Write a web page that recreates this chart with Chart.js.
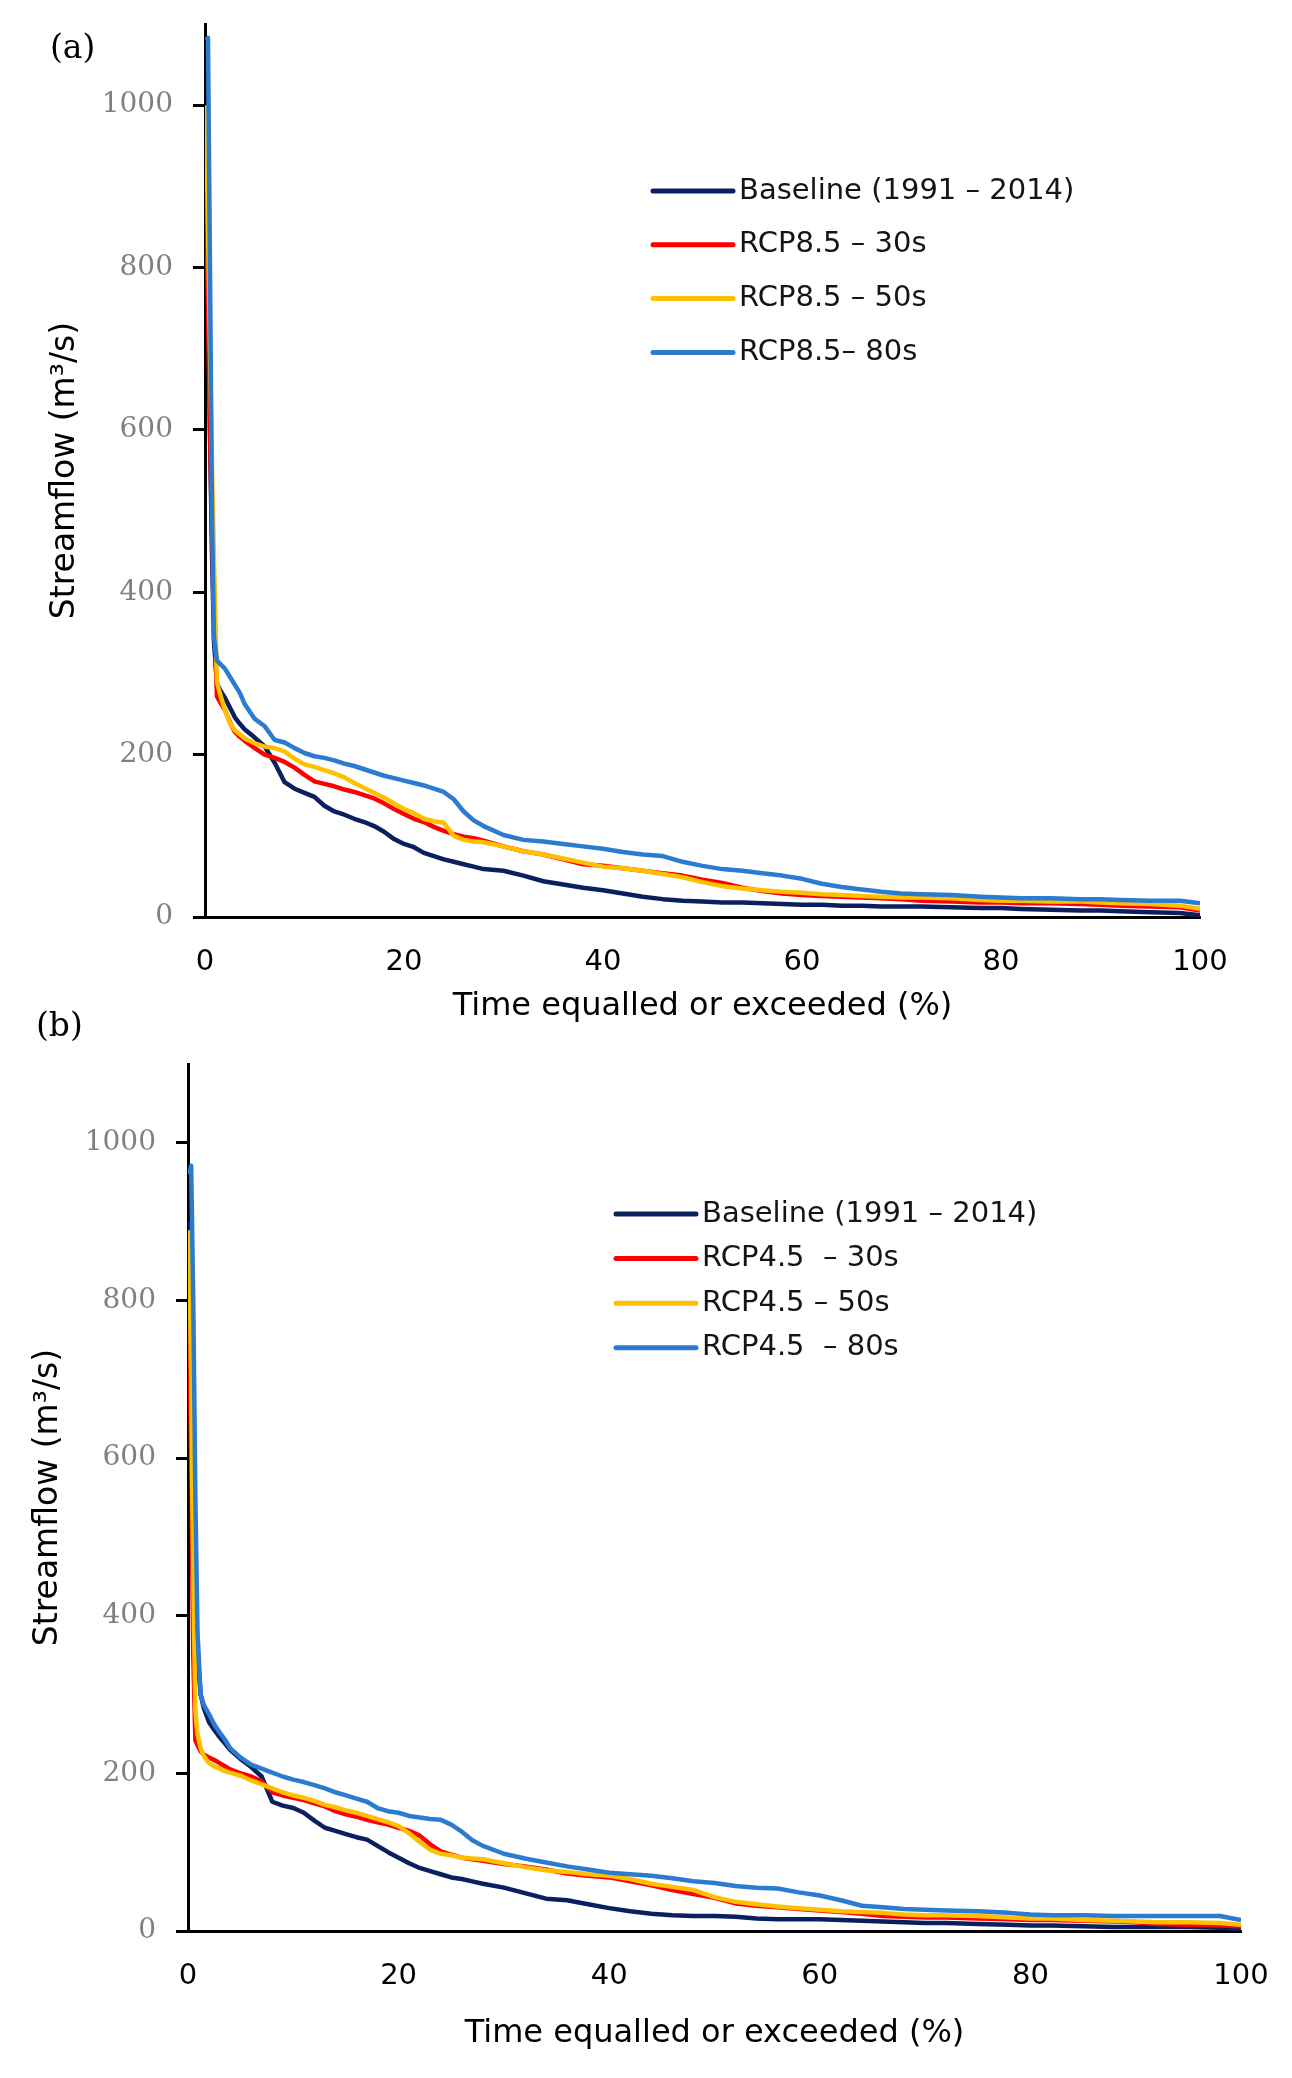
<!DOCTYPE html>
<html>
<head>
<meta charset="utf-8">
<script src="https://cdn.jsdelivr.net/npm/chart.js@4.4.1/dist/chart.umd.min.js"></script>
<style>
  body { margin: 0; background: #fff; width: 1292px; height: 2078px; position: relative; overflow: hidden; }
  .panel { position: absolute; left: 0; width: 1292px; }
  .tag { position: absolute; font-family: 'DejaVu Serif'; font-size: 33px; line-height: 33px; color: #000; }
</style>
</head>
<body>
<div class="panel" style="top:0;height:1040px"><canvas id="chartA"></canvas></div>
<div class="panel" style="top:1040px;height:1038px"><canvas id="chartB"></canvas></div>
<div class="tag" style="left:50px;top:30px">(a)</div>
<div class="tag" style="left:36px;top:1008px">(b)</div>
<script>
// time equalled or exceeded (%), shared by every curve
var pct = [0.1, 0.3, 0.5, 0.7, 0.9, 1.2, 1.5, 2, 2.5, 3, 3.5, 4,
  5, 6, 7, 8, 9, 10, 11, 12, 13, 14, 15, 16, 17, 18, 19, 20, 21, 22, 23, 24, 25, 26, 27, 28,
  30, 32, 34, 36, 38, 40, 42, 44, 46, 48, 50, 52, 54, 56, 58, 60, 62, 64, 66, 68, 70, 72,
  75, 78, 80, 82, 85, 88, 90, 92, 95, 98, 100]

// panel (a) streamflow, m3/s
var baseA = [950, 800, 600, 450, 340, 288, 280, 270, 258, 246, 238, 231,
  221, 210, 190, 166, 158, 153, 148, 137, 130, 126, 121, 117, 112, 105, 96, 90, 86, 79, 75, 71, 68, 65, 62, 59,
  57, 51, 44, 40, 36, 33, 29, 25, 22, 20, 19, 18, 18, 17, 16, 15, 15, 14, 14, 13, 13, 13,
  12, 11, 11, 10, 9, 8, 8, 7, 6, 5, 2]
var rcp85_30 = [900, 750, 600, 470, 380, 272, 265, 255, 240, 228, 222, 217,
  208, 200, 196, 191, 184, 175, 167, 164, 161, 157, 154, 150, 146, 140, 133, 127, 121, 117, 111, 106, 102, 99, 97, 94,
  87, 81, 77, 71, 65, 63, 60, 57, 54, 51, 46, 42, 36, 32, 29, 27, 26, 25, 24, 23, 22, 20,
  19, 18, 18, 17, 17, 16, 15, 14, 13, 12, 8]
var rcp85_50 = [1000, 850, 700, 560, 440, 290, 275, 255, 239, 230, 225, 220,
  214, 210, 208, 204, 195, 188, 185, 181, 177, 172, 165, 159, 153, 147, 140, 133, 128, 121, 118, 116, 100, 95, 93, 92,
  87, 81, 77, 72, 67, 62, 60, 57, 53, 49, 43, 38, 35, 33, 31, 30, 28, 27, 26, 25, 24, 24,
  23, 21, 20, 20, 19, 19, 18, 17, 16, 14, 10]
var rcp85_80 = [1080, 1083, 800, 500, 345, 316, 312, 306, 296, 286, 276, 262,
  244, 235, 218, 215, 208, 202, 198, 196, 193, 189, 186, 182, 178, 174, 171, 168, 165, 162, 158, 154, 145, 130, 119, 112,
  101, 95, 93, 90, 87, 84, 80, 77, 75, 68, 63, 59, 57, 54, 51, 47, 41, 37, 34, 31, 29, 28,
  27, 25, 24, 23, 23, 22, 22, 21, 20, 20, 17]

// panel (b) streamflow, m3/s
var baseB = [900, 750, 550, 420, 350, 300, 283, 265, 255, 246, 238, 230,
  218, 208, 196, 164, 159, 156, 150, 140, 131, 127, 123, 119, 116, 108, 100, 93, 86, 80, 76, 72, 68, 66, 63, 60,
  55, 48, 41, 39, 34, 29, 25, 22, 20, 19, 19, 18, 16, 15, 15, 15, 14, 13, 12, 11, 10, 10,
  9, 8, 7, 7, 6, 5, 5, 5, 5, 4, 2]
var rcp45_30 = [767, 600, 350, 242, 236, 228, 224, 220, 217, 213, 209, 205,
  200, 196, 190, 176, 172, 169, 166, 162, 158, 152, 148, 145, 141, 138, 135, 131, 127, 121, 110, 101, 97, 93, 91, 89,
  85, 82, 78, 73, 70, 68, 63, 58, 52, 47, 42, 35, 32, 30, 28, 26, 24, 22, 19, 18, 17, 17,
  16, 15, 14, 14, 13, 12, 11, 9, 8, 7, 6]
var rcp45_50 = [889, 700, 450, 280, 250, 232, 222, 213, 209, 206, 203, 201,
  197, 191, 186, 181, 176, 172, 169, 165, 160, 157, 153, 150, 146, 142, 138, 133, 124, 113, 103, 98, 96, 93, 92, 91,
  86, 81, 77, 75, 72, 70, 66, 60, 56, 52, 43, 37, 34, 31, 29, 27, 25, 24, 23, 21, 20, 20,
  19, 17, 16, 16, 14, 13, 12, 11, 11, 10, 8]
var rcp45_80 = [960, 971, 800, 550, 380, 300, 287, 275, 262, 252, 243, 232,
  220, 211, 206, 201, 196, 192, 189, 185, 181, 176, 172, 168, 164, 156, 152, 150, 146, 144, 142, 141, 135, 126, 115, 108,
  98, 92, 87, 82, 78, 74, 72, 70, 67, 63, 61, 57, 55, 54, 49, 45, 39, 32, 30, 28, 27, 26,
  25, 23, 21, 20, 20, 19, 19, 19, 19, 19, 14]

var xTicks = [0, 20, 40, 60, 80, 100]
var yTicks = [0, 200, 400, 600, 800, 1000]
var yMax = 1100

var labelsA = ['Baseline (1991 – 2014)', 'RCP8.5 – 30s', 'RCP8.5 – 50s', 'RCP8.5– 80s']
var labelsB = ['Baseline (1991 – 2014)', 'RCP4.5  – 30s', 'RCP4.5 – 50s', 'RCP4.5  – 80s']
var colors = ['#0b1f5e', '#ff0000', '#ffc000', '#2b7bd0']

// legend drawn inside the plot area, like the original figure
function legendPlugin(dx, dy, gap) {
  return {
    id: 'innerLegend',
    afterDraw: function(chart) {
      var ctx = chart.ctx, area = chart.chartArea
      ctx.save()
      ctx.font = "29px 'DejaVu Sans'"
      ctx.textBaseline = 'middle'
      chart.data.datasets.forEach(function(ds, i) {
        var x = area.left + dx, y = area.top + dy + i * gap
        ctx.strokeStyle = ds.borderColor
        ctx.lineWidth = 5
        ctx.lineCap = 'round'
        ctx.beginPath()
        ctx.moveTo(x, y)
        ctx.lineTo(x + 80, y)
        ctx.stroke()
        ctx.fillStyle = '#141414'
        ctx.fillText(ds.label, x + 86, y)
      })
      ctx.restore()
    }
  }
}

function buildDatasets(labels, series) {
  return series.map(function(vals, i) {
    return {
      label: labels[i],
      data: vals.map(function(v, j) { return {x: pct[j], y: v} }),
      borderColor: colors[i],
      backgroundColor: colors[i],
      borderWidth: 4.5,
      pointRadius: 0,
      tension: 0,
      borderJoinStyle: 'round',
      order: 4 - i
    }
  })
}

function makeChart(id, labels, series, cfg) {
  return new Chart(document.getElementById(id), {
    type: 'line',
    data: { datasets: buildDatasets(labels, series) },
    options: {
      responsive: true,
      maintainAspectRatio: false,
      animation: false,
      layout: { padding: { left: 0, top: cfg.top, right: cfg.right, bottom: 0 } },
      plugins: { legend: { display: false }, tooltip: { enabled: false } },
      scales: {
        x: {
          type: 'linear', min: 0, max: 100,
          afterBuildTicks: function(s) { s.ticks = xTicks.map(function(v) { return {value: v} }) },
          ticks: { padding: 28, maxRotation: 0, color: '#000',
            font: { family: "'DejaVu Sans'", size: 29 },
            callback: function(v) { return String(v) } },
          grid: { display: false, drawTicks: false },
          border: { display: true, color: '#000', width: 3 },
          title: { display: true, text: 'Time equalled or exceeded (%)', color: '#000',
            font: { family: "'DejaVu Sans'", size: 32 },
            padding: { top: 0, bottom: cfg.xTitlePad } },
          afterFit: function(s) { s.height = cfg.xHeight; s.paddingLeft = 0; s.paddingRight = 0 }
        },
        y: {
          type: 'linear', min: 0, max: yMax,
          afterBuildTicks: function(s) { s.ticks = yTicks.map(function(v) { return {value: v} }) },
          ticks: { padding: 20, color: '#808080',
            font: { family: "'DejaVu Serif'", size: 28 },
            callback: function(v) { return String(v) } },
          grid: { drawOnChartArea: false, drawTicks: true, tickLength: 12, color: '#000', lineWidth: 3 },
          border: { display: true, color: '#000', width: 3 },
          title: { display: true, text: 'Streamflow (m³/s)', color: '#000',
            font: { family: "'DejaVu Sans'", size: 33 },
            padding: { top: cfg.yTitlePad, bottom: 0 } },
          afterFit: function(s) { s.width = cfg.yWidth; s.paddingTop = 0; s.paddingBottom = 0 }
        }
      }
    },
    plugins: [legendPlugin(cfg.legX, cfg.legY, cfg.legGap)]
  })
}

var chartA = makeChart('chartA', labelsA, [baseA, rcp85_30, rcp85_50, rcp85_80],
  { top: 24, right: 92, yWidth: 205, xHeight: 123, xTitlePad: 14, yTitlePad: 46, legX: 448, legY: 167, legGap: 53.8 })
var chartB = makeChart('chartB', labelsB, [baseB, rcp45_30, rcp45_50, rcp45_80],
  { top: 24, right: 51, yWidth: 188, xHeight: 147, xTitlePad: 25, yTitlePad: 29, legX: 428, legY: 150, legGap: 44.6 })
</script>
</body>
</html>
